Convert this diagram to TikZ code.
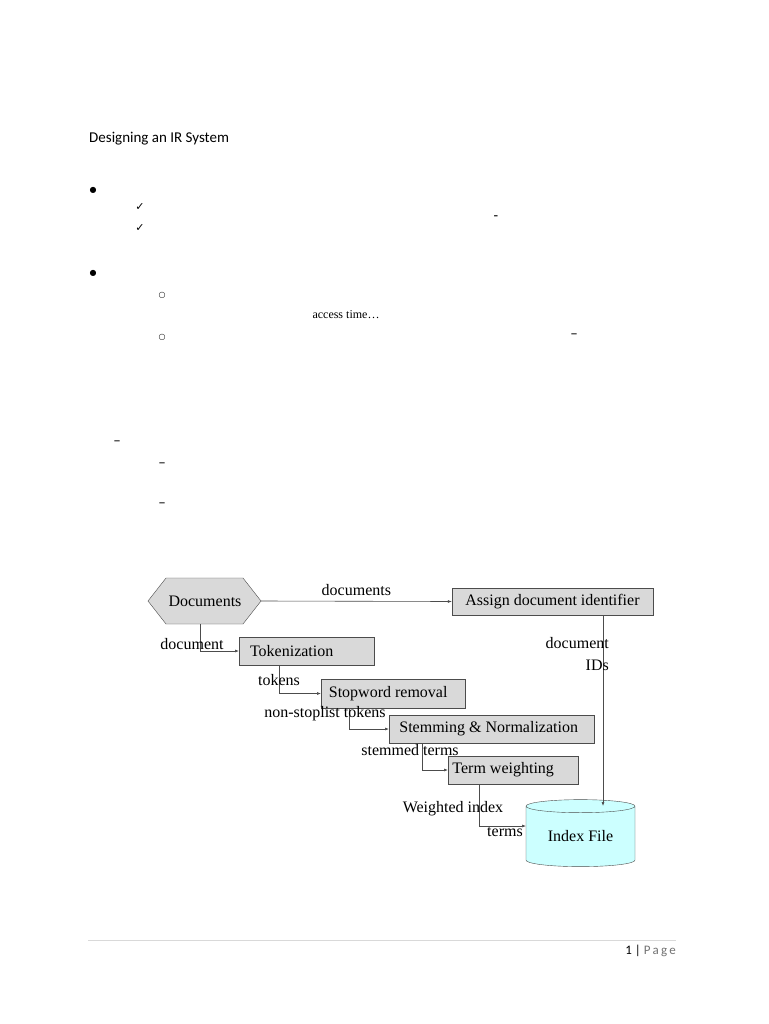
\documentclass[tikz,border=0pt]{standalone}
\usepackage{fontspec}
\setmainfont{Liberation Serif}
\newfontfamily\calfont{Carlito}
\newfontfamily\djfont{DejaVu Sans}
\usetikzlibrary{shapes.geometric,arrows.meta}
\definecolor{boxg}{RGB}{217,217,217}
\definecolor{cyl}{RGB}{204,255,255}
\tikzset{x=1pt,y=-1pt,
 pbox/.style={draw=black!70,fill=boxg,minimum height=28pt,inner sep=0pt,font=\fontsize{16}{18}\selectfont},
 lbl/.style={font=\fontsize{16}{18}\selectfont,inner sep=0pt},
 conn/.style={draw=black!70,line width=0.6pt,-{Latex[length=4pt,width=3pt]}},
 pg/.style={font=\calfont\fontsize{15}{17}\selectfont,inner sep=0pt}}
\begin{document}
\begin{tikzpicture}
\useasboundingbox[fill=white] (0,0) rectangle (768,1024);
\node[pg,anchor=west] (title) at (89,139) {Designing an IR System};
\node[pg] (b1) at (93,190) {\djfont\fontsize{8}{8}\selectfont ●};
\node[pg] (c1) at (140,207) {\djfont\fontsize{11}{11}\selectfont ✓};
\node[pg] (c2) at (140,228) {\djfont\fontsize{11}{11}\selectfont ✓};
\node[pg] (d0) at (496,218) {-};
\node[pg] (b2) at (93,273) {\djfont\fontsize{8}{8}\selectfont ●};
\node[pg] (o1) at (162,295) {\djfont\fontsize{8}{8}\selectfont ○};
\node[pg] (o2) at (162,337) {\djfont\fontsize{8}{8}\selectfont ○};
\node[inner sep=0pt,font=\fontsize{12}{14}\selectfont] (acc) at (346,315) {access time\dots};
\node[pg] (d1) at (574,336) {–};
\node[pg] (d2) at (117,443) {–};
\node[pg] (d3) at (162,465) {–};
\node[pg] (d4) at (162,505) {–};
% diagram
\draw[draw=black!70,fill=boxg] (148,601) -- (166,578) -- (243,578) -- (261,601) -- (243,624) -- (166,624) -- cycle;
\node[lbl] (docs) at (205,601) {Documents};
\coordinate (docsR) at (261,601);
\coordinate (docsB) at (200,624);
\node[pbox,minimum width=201pt,minimum height=27pt] (assign) at (552.5,601.5) {Assign document identifier};
\node[pbox,minimum width=135pt,anchor=west] (tok) at (239,651) {\hspace*{-30pt}Tokenization};
\node[pbox,minimum width=144pt,anchor=west,minimum height=29pt] (stop) at (321,693.5) {\hspace*{-10pt}Stopword removal};
\node[pbox,minimum width=205pt,anchor=west] (stem) at (389,729) {\hspace*{-6pt}Stemming \& Normalization};
\node[pbox,minimum width=130pt,anchor=west] (term) at (448,770) {\hspace*{-20pt}Term weighting};
\node[shape=cylinder,shape border rotate=90,draw=black!70,fill=cyl,aspect=0.2,minimum width=109pt,minimum height=67pt,inner sep=0pt,font=\fontsize{16}{18}\selectfont] (idx) at (580.5,836.5) {Index File};
\draw[conn] (docsR) -- node[lbl,above=5pt] {documents} (assign.west);
\draw[conn] (docsB) |- (tok.west);
\node[lbl] at (192,644) {document};
\draw[conn] (tok.south west) ++(40,0) coordinate (t1) |- (stop.west);
\node[lbl] at (279,680) {tokens};
\draw[conn] (stop.south west) ++(28,0) coordinate (t2) |- (stem.west);
\node[lbl] at (325,714) {non-stoplist tokens};
\draw[conn] (stem.south west) ++(33,0) coordinate (t3) |- (term.west);
\node[lbl] at (410,750) {stemmed terms};
\coordinate (idxL) at (526,826);
\draw[conn] (term.south west) ++(31,0) coordinate (t4) |- (idxL);
\node[lbl] at (453,809) {Weighted index};
\node[lbl] at (505,832) {terms};
\coordinate (idxT) at (603,806);
\draw[conn] (assign.south) ++(50.5,0) coordinate (a1) -- (idxT);
\node[lbl,anchor=east] at (609,643) {document};
\node[lbl,anchor=east] at (609,665) {IDs};
% footer
\draw[black!15,line width=0.6pt] (88,940) -- (676,940);
\node[pg,anchor=east,font=\calfont\fontsize{13}{15}\selectfont] (pn) at (676,951) {1 | \textcolor{black!55}{P\,a\,g\,e}};
\end{tikzpicture}
\end{document}
